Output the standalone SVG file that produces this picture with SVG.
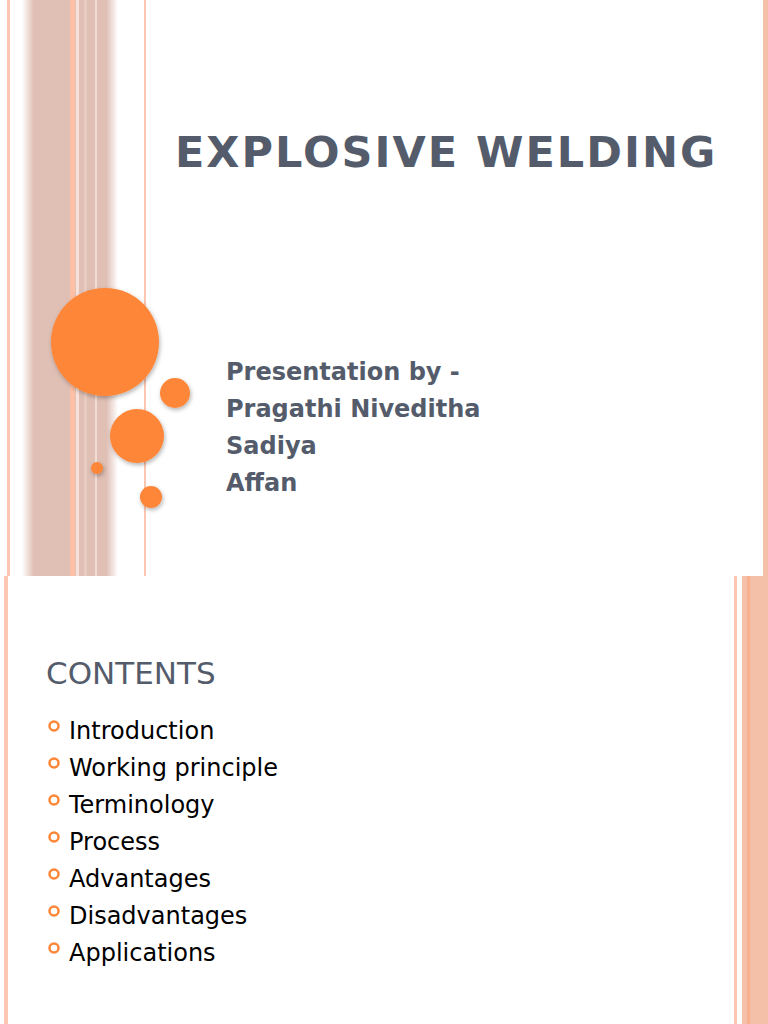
<svg xmlns="http://www.w3.org/2000/svg" width="768" height="1024" viewBox="0 0 768 1024">
<defs>
<style>
.t{font-family:"DejaVu Sans",sans-serif;fill:#545c6b}
.b{font-family:"DejaVu Sans",sans-serif;fill:#000;font-size:24px}
.dot{fill:#fe8637}
.bul{fill:none;stroke:#fe8637;stroke-width:2.5}
</style>
<linearGradient id="band" x1="0" x2="1">
<stop offset="0" stop-color="#e0c0b5" stop-opacity="0"/>
<stop offset="0.12" stop-color="#e0c0b5"/>
<stop offset="0.88" stop-color="#e0c0b5"/>
<stop offset="1" stop-color="#e0c0b5" stop-opacity="0"/>
</linearGradient>
<filter id="sh" x="-20%" y="-20%" width="150%" height="150%"><feDropShadow dx="1" dy="2" stdDeviation="2" flood-color="#000" flood-opacity="0.3"/></filter>
</defs>
<rect width="768" height="1024" fill="#f4c0a8"/>
<g id="slide1">
<rect x="0" y="0" width="763" height="576" fill="#fff"/>
<rect x="7" y="0" width="3" height="576" fill="#fdc6b0"/>
<rect x="22" y="0" width="96" height="576" fill="url(#band)"/>
<rect x="70" y="0" width="5" height="576" fill="#fdbfa5"/>
<rect x="76" y="0" width="3" height="576" fill="#f7e2da"/>
<rect x="84" y="0" width="3" height="576" fill="#e9ccc2"/>
<rect x="95" y="0" width="2" height="576" fill="#f2ddd5"/>
<rect x="144" y="0" width="2" height="576" fill="#fdc6b0"/>
<g filter="url(#sh)">
<circle class="dot" cx="105" cy="342" r="54"/>
<circle class="dot" cx="175" cy="393" r="15"/>
<circle class="dot" cx="137" cy="436" r="27"/>
<circle class="dot" cx="97" cy="468" r="6"/>
<circle class="dot" cx="151" cy="497" r="11"/>
</g>
<text id="title" class="t" x="175" y="167" font-size="43" font-weight="bold" letter-spacing="2">EXPLOSIVE  WELDING</text>
<g id="subtitle" class="t" font-size="24" font-weight="bold">
<text x="226" y="380">Presentation by -</text>
<text x="226" y="417">Pragathi Niveditha</text>
<text x="226" y="454">Sadiya</text>
<text x="226" y="491">Affan</text>
</g>
</g>
<g id="slide2">
<rect x="0" y="576" width="768" height="448" fill="#fff"/>
<rect x="4" y="576" width="4" height="448" fill="#fdc6b0"/>
<rect x="734" y="576" width="3" height="448" fill="#fdc6b0"/>
<rect x="742" y="576" width="26" height="448" fill="#f4c0a8"/>
<rect x="747" y="576" width="3" height="448" fill="#f8b08e"/>
<text class="t" x="46" y="684" font-size="31">CONTENTS</text>
<g id="bullets">
<circle class="bul" cx="54" cy="726" r="4.5"/><text class="b" x="69" y="739">Introduction</text>
<circle class="bul" cx="54" cy="763" r="4.5"/><text class="b" x="69" y="776">Working principle</text>
<circle class="bul" cx="54" cy="800" r="4.5"/><text class="b" x="69" y="813">Terminology</text>
<circle class="bul" cx="54" cy="837" r="4.5"/><text class="b" x="69" y="850">Process</text>
<circle class="bul" cx="54" cy="874" r="4.5"/><text class="b" x="69" y="887">Advantages</text>
<circle class="bul" cx="54" cy="911" r="4.5"/><text class="b" x="69" y="924">Disadvantages</text>
<circle class="bul" cx="54" cy="948" r="4.5"/><text class="b" x="69" y="961">Applications</text>
</g>
</g>
</svg>
